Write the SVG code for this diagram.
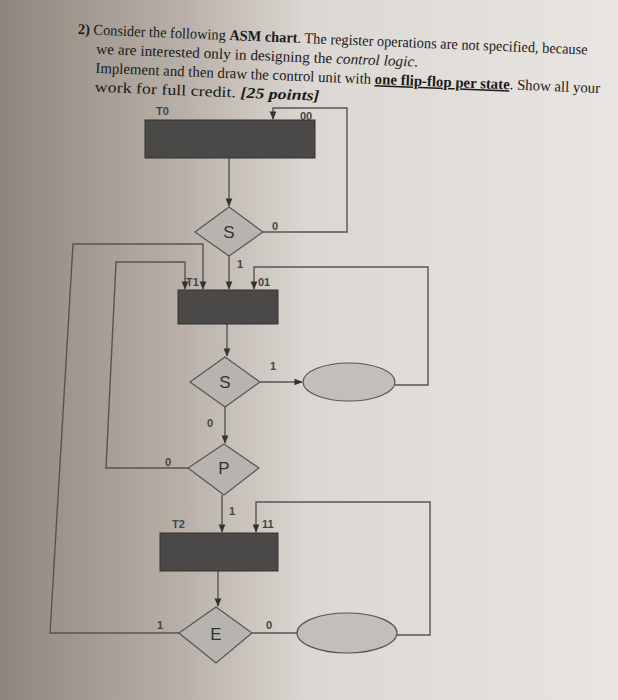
<svg xmlns="http://www.w3.org/2000/svg" width="618" height="700" viewBox="0 0 618 700">
<defs>
<linearGradient id="bg" x1="0" y1="0" x2="1" y2="0">
<stop offset="0" stop-color="#8f857c"/><stop offset="0.3" stop-color="#b9b1a9"/><stop offset="0.5" stop-color="#dcd7d2"/><stop offset="1" stop-color="#e8e5e2"/>
</linearGradient>
<marker id="a" viewBox="0 0 10 10" refX="9" refY="5" markerWidth="6" markerHeight="6" orient="auto"><path d="M0,1 L10,5 L0,9z" fill="#333"/></marker>
<style>
.t{font-family:"Liberation Serif",serif;font-size:15px;fill:#1a1a1a}
.l{font-family:"Liberation Sans",Arial,sans-serif;font-size:11px;font-weight:bold;fill:#444}
.d{font-family:"Liberation Sans",Arial,sans-serif;font-size:17px;fill:#333}
.c{fill:none;stroke:#555;stroke-width:1.4}
.ar{marker-end:url(#a)}
.box{fill:#4a4947;stroke:#333}
.dia{fill:#b7b4b0;stroke:#555;stroke-width:1.2}
.el{fill:#c2bfbb;stroke:#555;stroke-width:1.2}
</style>
</defs>
<rect width="618" height="700" fill="url(#bg)"/>
<g transform="rotate(2.3 78 30)">
<text class="t" x="78" y="34" textLength="510" lengthAdjust="spacingAndGlyphs"><tspan font-weight="bold">2)</tspan> Consider the following <tspan font-weight="bold">ASM chart</tspan>. The register operations are not specified, because</text>
<text class="t" x="97" y="53" textLength="322" lengthAdjust="spacingAndGlyphs">we are interested only in designing the <tspan font-style="italic">control logic</tspan>.</text>
<text class="t" x="97" y="72" textLength="505" lengthAdjust="spacingAndGlyphs">Implement and then draw the control unit with <tspan font-weight="bold" text-decoration="underline">one flip-flop per state</tspan>. Show all your</text>
<text class="t" x="97" y="91" textLength="225" lengthAdjust="spacingAndGlyphs">work for full credit. <tspan font-weight="bold" font-style="italic">[25 points]</tspan></text>
</g>
<g id="connectors">
<path class="c ar" d="M229,158 V206"/>
<path class="c ar" d="M263,232 H347 V108 H273 V119"/>
<path class="c ar" d="M229,256 V289"/>
<path class="c ar" d="M179,633 H50 L73,244 H203 V289"/>
<path class="c ar" d="M188,468 H106 L116,262 H185 V289"/>
<path class="c ar" d="M395,385 H428 V267 H254 V289"/>
<path class="c ar" d="M227,324 V356"/>
<path class="c ar" d="M260,382 H302"/>
<path class="c ar" d="M225,407 V443"/>
<path class="c ar" d="M222,495 V532"/>
<path class="c ar" d="M397,635 H430 V502 H256 V532"/>
<path class="c ar" d="M218,571 V606"/>
<path class="c" d="M252,633 H297"/>
</g>
<g id="T0"><rect class="box" x="145" y="120" width="170" height="38"/><text class="l" x="156" y="115">T0</text><text class="l" x="300" y="120">00</text></g>
<g id="S1"><polygon class="dia" points="229,207 263,232 229,256 195,232"/><text class="d" x="229" y="238" text-anchor="middle">S</text><text class="l" x="272" y="230">0</text><text class="l" x="237" y="268">1</text></g>
<g id="T1"><rect class="box" x="178" y="290" width="100" height="34"/><text class="l" x="186" y="286">T1</text><text class="l" x="258" y="286">01</text></g>
<g id="S2"><polygon class="dia" points="225,357 260,382 225,407 190,382"/><text class="d" x="225" y="388" text-anchor="middle">S</text><text class="l" x="270" y="370">1</text><text class="l" x="207" y="427">0</text></g>
<g id="out1"><ellipse class="el" cx="349" cy="382" rx="46" ry="19"/></g>
<g id="P"><polygon class="dia" points="224,444 259,468 224,495 188,468"/><text class="d" x="224" y="474" text-anchor="middle">P</text><text class="l" x="165" y="466">0</text><text class="l" x="229" y="515">1</text></g>
<g id="T2"><rect class="box" x="160" y="533" width="118" height="38"/><text class="l" x="172" y="528">T2</text><text class="l" x="262" y="528">11</text></g>
<g id="E"><polygon class="dia" points="216,607 252,633 216,663 179,633"/><text class="d" x="216" y="640" text-anchor="middle">E</text><text class="l" x="157" y="629">1</text><text class="l" x="266" y="629">0</text></g>
<g id="out2"><ellipse class="el" cx="347" cy="633" rx="50" ry="20"/></g>
</svg>
